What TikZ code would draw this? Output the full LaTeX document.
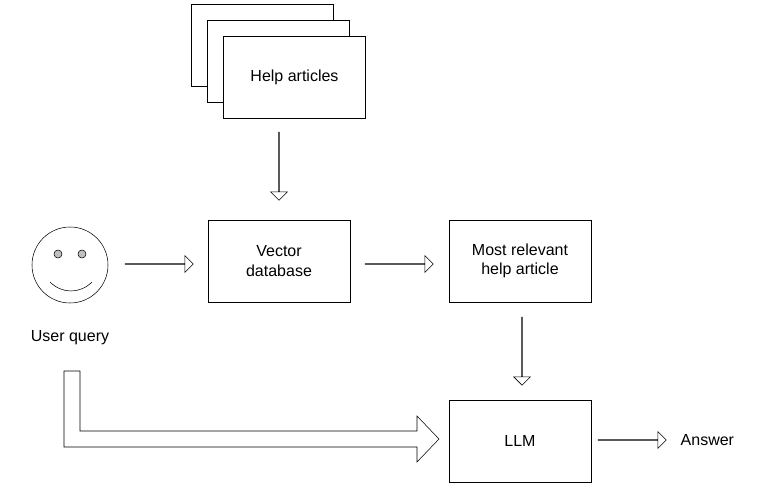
\documentclass[tikz,border=0pt]{standalone}
\usepackage{fontspec}
\setmainfont{Liberation Sans}
\usetikzlibrary{positioning}
\usetikzlibrary{shapes.arrows}

\begin{document}
\begin{tikzpicture}
  [
    x=0.75pt, y=-0.75pt,
    every node/.style={font=\fontsize{12}{14.5}\selectfont},
    box/.style={
      draw,
      fill=white,
      minimum width=106.5pt,
      minimum height=61.5pt,
      align=center
    },
    block/.style={
      single arrow,
      draw,
      fill=white,
      minimum width=12pt,
      single arrow head extend=6pt,
      minimum height=51pt,
      inner sep=0pt
    }
  ]
  \useasboundingbox (0,0) rectangle (781,488);
  % stacked help articles
  \node [box] (back) at (262.5,45) {};
  \node [box] (middle) at (278.5,61) {};
  \node [box] (docs) at (294.5,77) {Help articles};
  \node [block,shape border rotate=270] (docsarrow) at (279,166) {};
  % main row
  \node [box] (vdb) at (279,261) {Vector\\database};
  \node [box] (rel) at (520,261) {Most relevant\\help article};
  \node [box] (llm) at (520,441) {LLM};
  \node [block] (qarrow) at (159,264) {};
  \node [block] (varrow) at (399,264) {};
  \node [block,shape border rotate=270] (rarrow) at (522,351) {};
  \node [block] (aarrow) at (632,440) {};
  \node [anchor=west] (answer) at (676,440) {Answer};
  % user
  \draw (70,265) circle [radius=38];
  \draw [fill=black!25] (58,254) circle [radius=4];
  \draw [fill=black!25] (82,254) circle [radius=4];
  \draw (50,282) .. controls (62,294) and (80,294) .. (92,282);
  \node (user) at (70,338) {User query};
  % query to llm
  \draw (64,371) -- (80,371) -- (80,431) -- (417,431) -- (417,416)
    -- (439,439) -- (417,462) -- (417,447) -- (64,447) -- cycle;
\end{tikzpicture}
\end{document}
